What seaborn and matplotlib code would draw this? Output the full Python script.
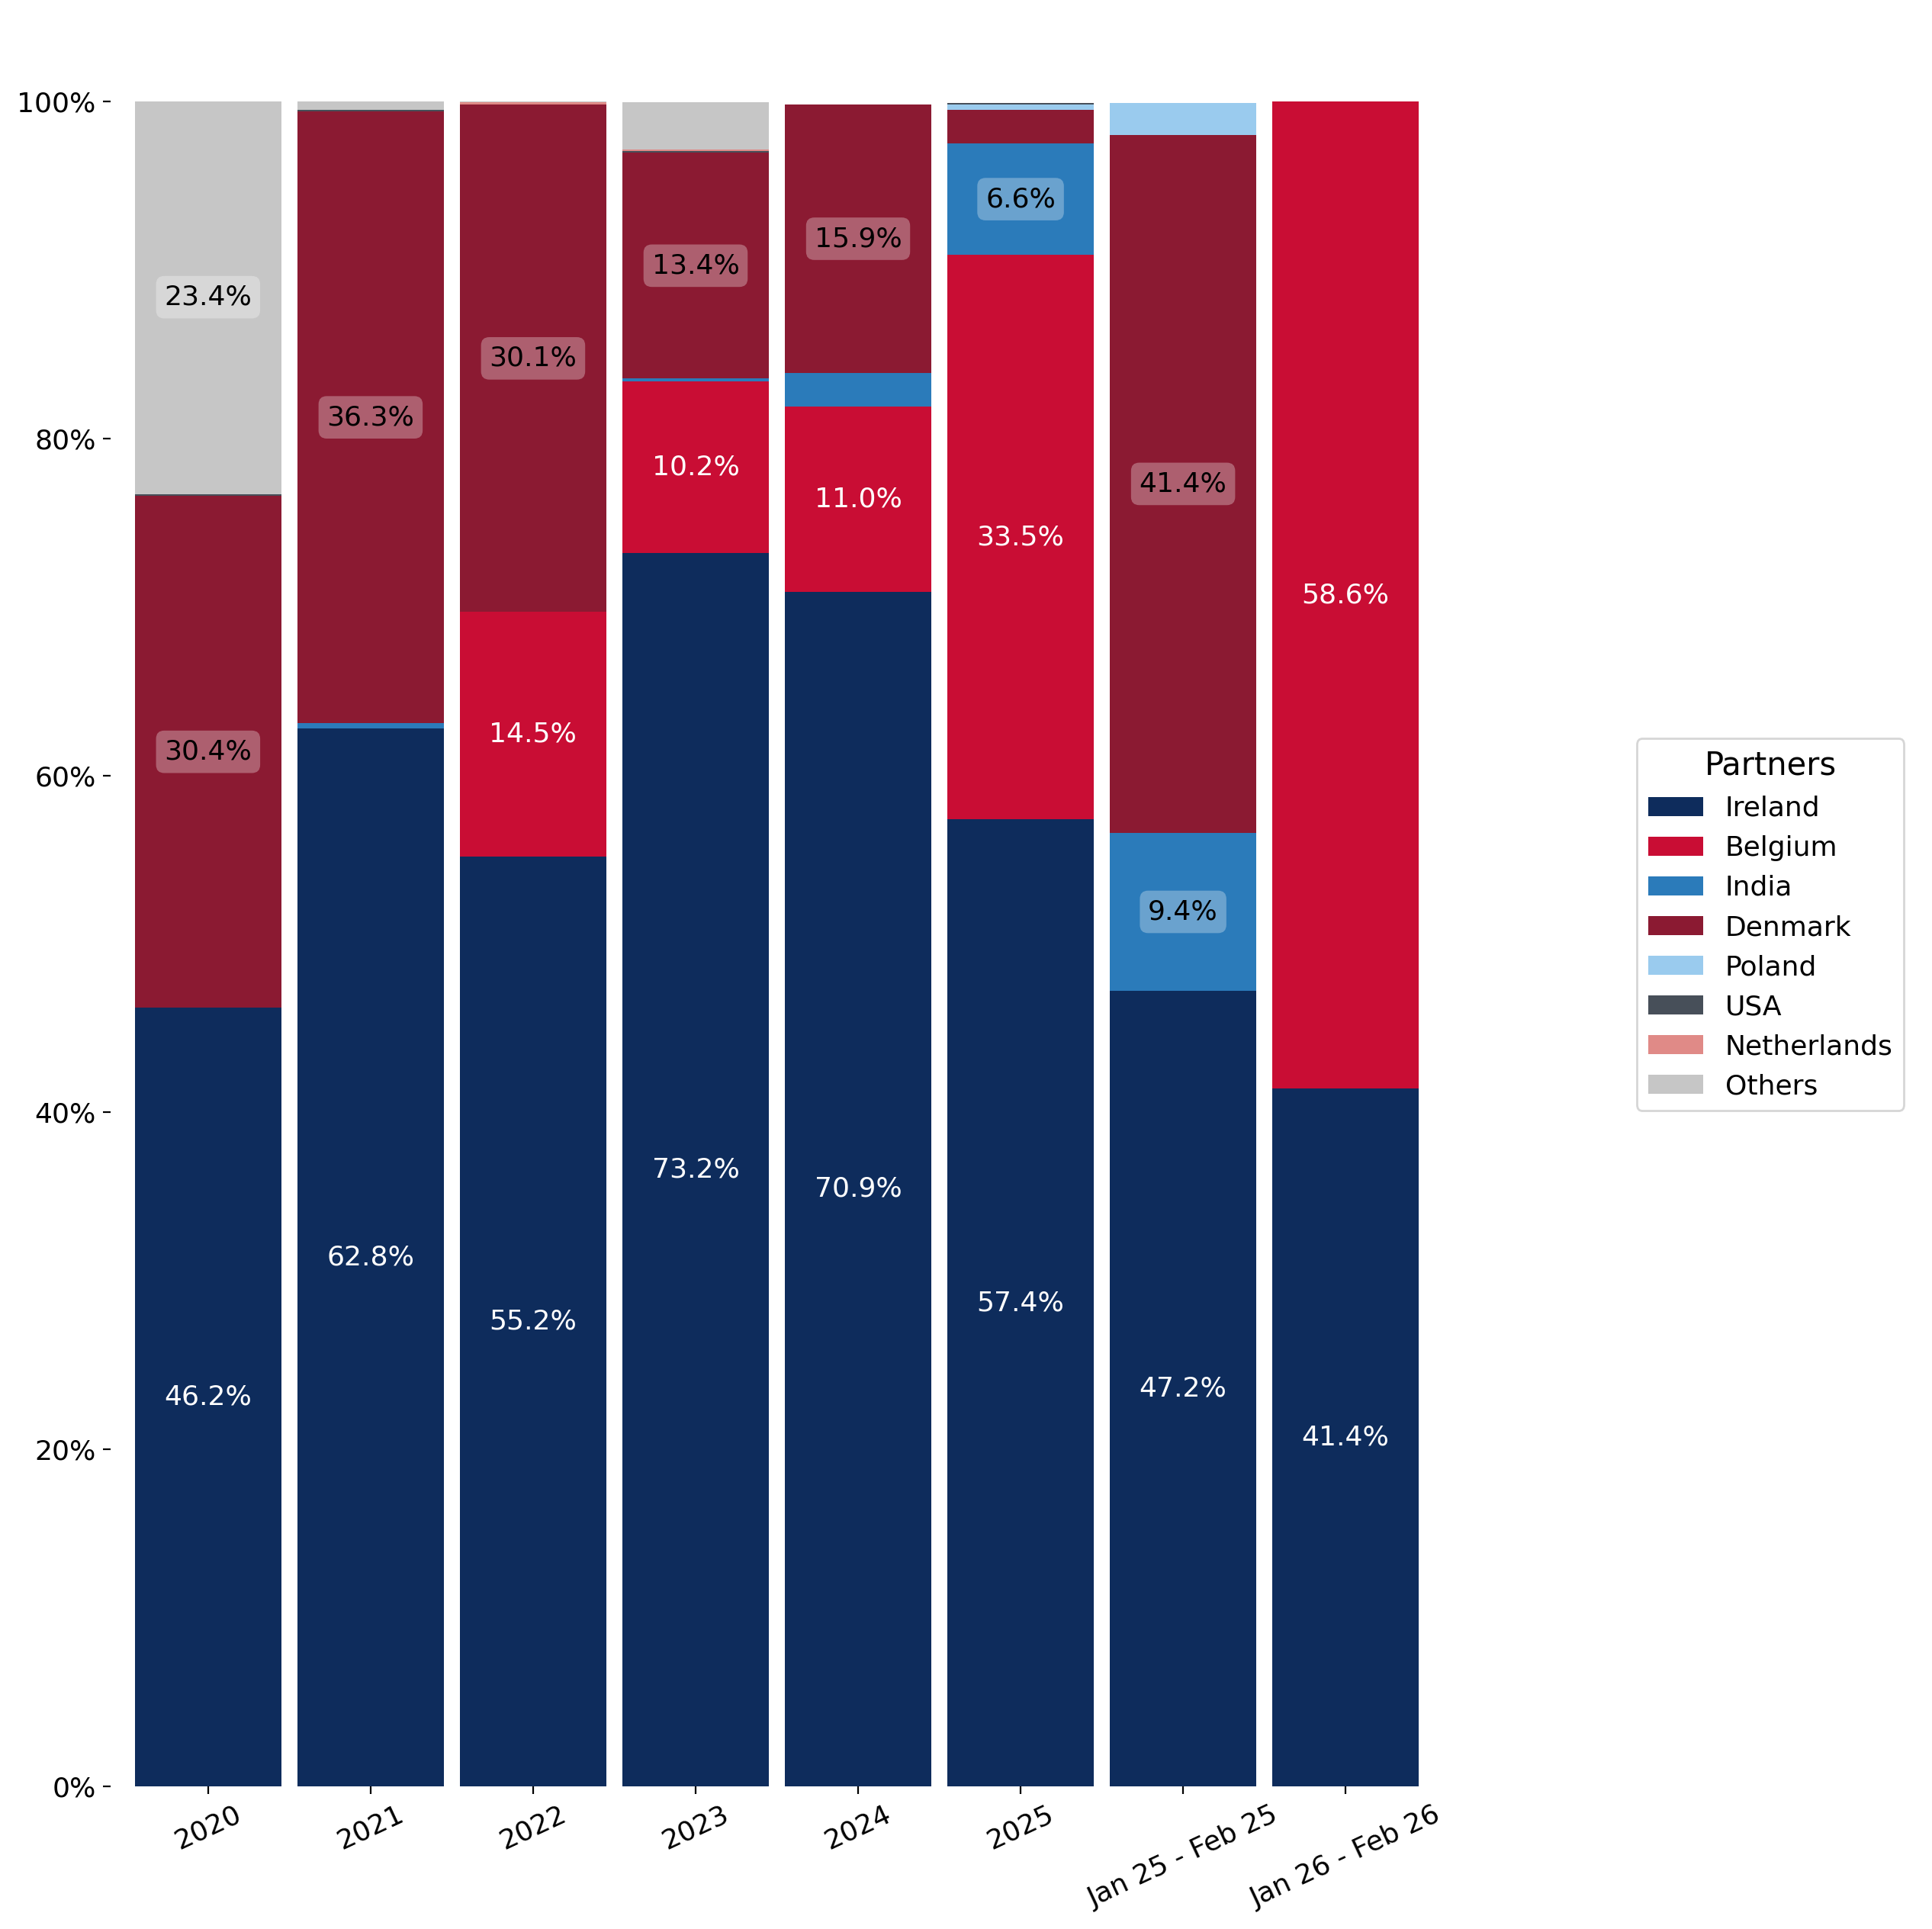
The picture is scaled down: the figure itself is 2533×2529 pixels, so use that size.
import numpy as np
import seaborn as sns
import matplotlib.pyplot as plt

# share of exports by partner (%)
periods = ['2020', '2021', '2022', '2023', '2024', '2025',
           'Jan 25 - Feb 25', 'Jan 26 - Feb 26']
partners = ['Ireland', 'Belgium', 'India', 'Denmark', 'Poland', 'USA',
            'Netherlands', 'Others']

ireland = [46.2, 62.8, 55.2, 73.2, 70.9, 57.4, 47.2, 41.4]
belgium = [0, 0, 14.5, 10.2, 11.0, 33.5, 0, 58.6]
india = [0, 0.3, 0, 0.15, 2.0, 6.6, 9.4, 0]
denmark = [30.4, 36.3, 30.1, 13.4, 15.9, 2.0, 41.4, 0]
poland = [0, 0, 0, 0, 0, 0.3, 1.9, 0]
usa = [0.08, 0.1, 0, 0.1, 0, 0.1, 0, 0]
netherlands = [0, 0, 0.15, 0.1, 0, 0, 0, 0]
others = [23.4, 0.5, 0.05, 2.8, 0, 0, 0, 0]

series = [ireland, belgium, india, denmark, poland, usa, netherlands, others]
colors = ['#0e2c5c', '#c90d34', '#2b7bba', '#8b1a32', '#9acbee',
          '#474f59', '#e08a87', '#c6c6c6']
text_white = {'Ireland', 'Belgium'}

sns.set_theme(style='white')
plt.rcParams['font.family'] = ['DejaVu Sans']
plt.rcParams['text.color'] = 'black'
plt.rcParams['xtick.color'] = 'black'
plt.rcParams['ytick.color'] = 'black'

fig = plt.figure(figsize=(12.665, 12.6452), dpi=200)
ax = fig.add_axes([145 / 2533, 1 - 2342 / 2529, 1747 / 2533, 2209 / 2529])

bottom = np.zeros(len(periods))
for name, vals, col in zip(partners, series, colors):
    vals = np.array(vals, dtype=float)
    sns.barplot(x=periods, y=vals, bottom=bottom, color=col, saturation=1,
                width=0.9, linewidth=0, label=name, ax=ax)
    for i, v in enumerate(vals):
        if v >= 5:
            if name in text_white:
                ax.text(i, bottom[i] + v / 2, f'{v:.1f}%', ha='center',
                        va='center', fontsize=13, color='white')
            else:
                ax.text(i, bottom[i] + v / 2, f'{v:.1f}%', ha='center',
                        va='center', fontsize=13, color='black',
                        bbox=dict(boxstyle='round,pad=0.3', fc='white',
                                  ec='none', alpha=0.3))
    bottom += vals

ax.set_xlim(-0.6, 7.6)
ax.set_ylim(0, 100)
ax.set_yticks([0, 20, 40, 60, 80, 100])
ax.set_yticklabels([f'{t}%' for t in [0, 20, 40, 60, 80, 100]])
ax.tick_params(axis='both', left=True, bottom=True, length=3.5, width=0.8,
               labelsize=13, colors='black')
plt.setp(ax.get_xticklabels(), rotation=25, ha='center')
ax.set_xlabel('')
ax.set_ylabel('')
for s in ax.spines.values():
    s.set_visible(False)

leg = ax.legend(title='Partners', loc='center left',
                bbox_to_anchor=(2128 / 2533, 1 - 1212 / 2529),
                bbox_transform=fig.transFigure, fontsize=13,
                title_fontsize=15, frameon=True)
for t in leg.get_texts():
    t.set_color('black')
leg.get_title().set_color('black')

fig.savefig('out.png', dpi=200)
